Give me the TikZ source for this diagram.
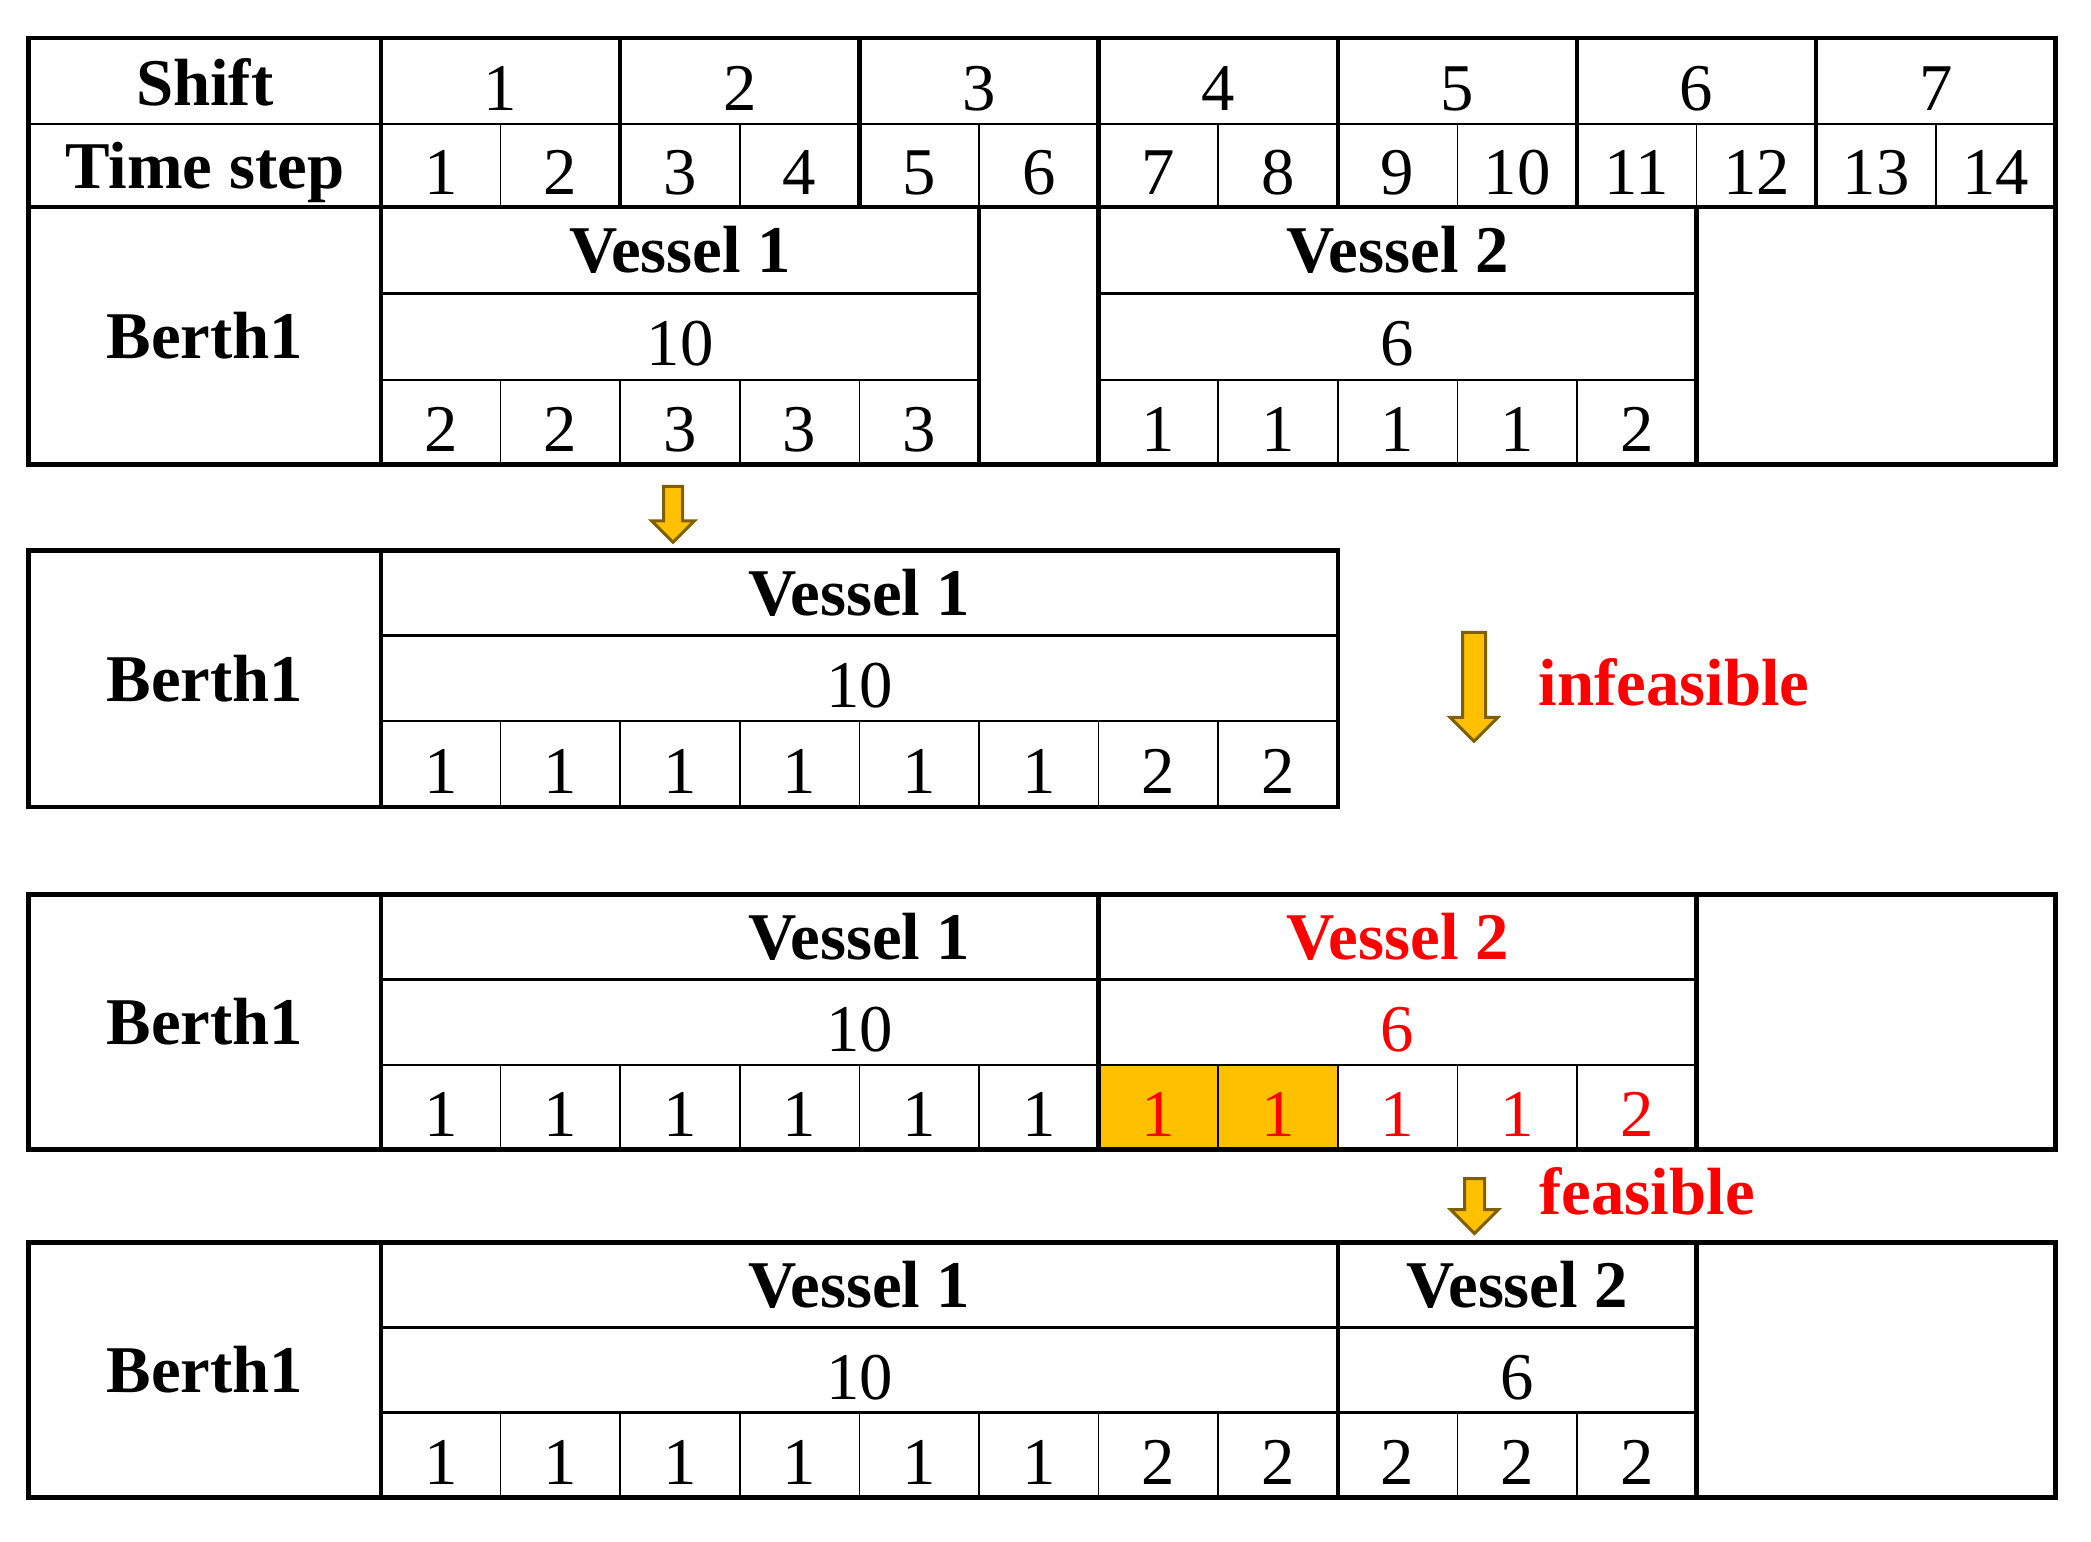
\documentclass[tikz,border=0pt]{standalone}
\usepackage{fontspec}
\setmainfont{Liberation Serif}
\usetikzlibrary{shapes.arrows}
\definecolor{amber}{HTML}{FFC000}
\definecolor{amberline}{HTML}{7F6000}

\begin{document}
\begin{tikzpicture}[x=1.196cm,y=-1cm,
    txt/.style={inner sep=0pt,text height=4.4mm,text depth=0pt,font=\fontsize{19}{23}\selectfont},
    num/.style={txt,yshift=-0.7mm},
    hd/.style={txt,font=\fontsize{19}{23}\selectfont\bfseries},
    tline/.style={line width=0.15mm},
    mline/.style={line width=0.25mm},
    bline/.style={line width=0.45mm},
    drop/.style={single arrow,draw=amberline,fill=amber,line width=0.3mm,rotate=-90,inner sep=0pt,
      text height=#1/2,text depth=#1/2}]
  \useasboundingbox (-3.1856,0) rectangle (14.2977,15.41);
  % header
  \draw[mline] (-2.947,1.24) -- (14,1.24);
  \foreach \i in {1,3,...,13}
    \draw[tline] (\i,1.24) -- (\i,2.07);
  \foreach \i in {0,2,...,14}
    \draw[bline] (\i,0.38) -- (\i,2.07);
  \draw[bline] (-2.947,0.38) rectangle (14,2.07);
  \node[hd] (shift) at (-1.4735,0.83) {Shift};
  \node[hd] (tstep) at (-1.4735,1.66) {Time step};
  \foreach \s in {1,...,7}
    \node[num] (s\s) at (2*\s-1,0.81) {\s};
  \foreach \t in {1,...,14}
    \node[num] (ts\t) at (\t-0.5,1.655) {\t};
  % plan 1
  \draw[bline] (-2.947,2.07) rectangle (14,4.645);
  \node[hd] (berth1) at (-1.4735,3.36) {Berth1};
  \foreach \v [count=\i] in {2,2,3,3,3} {
    \draw[tline] (\i,3.80) -- (\i,4.645);
    \node[num] (t1a\i) at (\i-0.5,4.2225) {\v};
  }
  \foreach \v [count=\i from 7] in {1,1,1,1,2} {
    \draw[tline] (\i,3.80) -- (\i,4.645);
    \node[num] (t1b\i) at (\i-0.5,4.2225) {\v};
  }
  \draw[mline] (0,2.935) -- (5,2.935) (0,3.80) -- (5,3.80);
  \draw[mline] (6,2.935) -- (11,2.935) (6,3.80) -- (11,3.80);
  \draw[bline] (0,2.07) rectangle (5,4.645);
  \draw[bline] (6,2.07) rectangle (11,4.645);
  \node[hd] (t1v1) at (2.5,2.5025) {Vessel 1};
  \node[num] (t1l1) at (2.5,3.3675) {10};
  \node[hd] (t1v2) at (8.5,2.5025) {Vessel 2};
  \node[num] (t1l2) at (8.5,3.3675) {6};
  % plan 2
  \draw[bline] (-2.947,5.505) rectangle (8,8.07);
  \node[hd] (berth2) at (-1.4735,6.79) {Berth1};
  \foreach \v [count=\i] in {1,1,1,1,1,1,2,2} {
    \draw[tline] (\i,7.21) -- (\i,8.07);
    \node[num] (t2a\i) at (\i-0.5,7.64) {\v};
  }
  \draw[mline] (0,6.355) -- (8,6.355) (0,7.21) -- (8,7.21);
  \draw[bline] (0,5.505) -- (0,8.07);
  \node[hd] (t2v1) at (4,5.93) {Vessel 1};
  \node[num] (t2l1) at (4,6.7825) {10};
  % plan 3
  \fill[amber] (6,10.65) rectangle (8,11.495);
  \draw[bline] (-2.947,8.945) rectangle (14,11.495);
  \node[hd] (berth3) at (-1.4735,10.22) {Berth1};
  \foreach \v [count=\i] in {1,1,1,1,1,1} {
    \draw[tline] (\i,10.65) -- (\i,11.495);
    \node[num] (t3a\i) at (\i-0.5,11.0725) {\v};
  }
  \foreach \v [count=\i from 7] in {1,1,1,1,2} {
    \draw[tline] (\i,10.65) -- (\i,11.495);
    \node[num,red] (t3b\i) at (\i-0.5,11.0725) {\v};
  }
  \draw[mline] (0,9.795) -- (11,9.795) (0,10.65) -- (11,10.65);
  \draw[bline] (0,8.945) rectangle (6,11.495);
  \draw[bline] (6,8.945) rectangle (11,11.495);
  \node[hd] (t3v1) at (4,9.37) {Vessel 1};
  \node[num] (t3l1) at (4,10.2225) {10};
  \node[hd,red] (t3v2) at (8.5,9.37) {Vessel 2};
  \node[num,red] (t3l2) at (8.5,10.2225) {6};
  % plan 4
  \draw[bline] (-2.947,12.425) rectangle (14,14.975);
  \node[hd] (berth4) at (-1.4735,13.70) {Berth1};
  \foreach \v [count=\i] in {1,1,1,1,1,1,2,2,2,2,2} {
    \draw[tline] (\i,14.125) -- (\i,14.975);
    \node[num] (t4a\i) at (\i-0.5,14.55) {\v};
  }
  \draw[mline] (0,13.275) -- (11,13.275) (0,14.125) -- (11,14.125);
  \draw[bline] (0,12.425) rectangle (8,14.975);
  \draw[bline] (8,12.425) rectangle (11,14.975);
  \node[hd] (t4v1) at (4,12.85) {Vessel 1};
  \node[num] (t4l1) at (4,13.70) {10};
  \node[hd] (t4v2) at (9.5,12.85) {Vessel 2};
  \node[num] (t4l2) at (9.5,13.70) {6};
  % arrows
  \node[drop=1.6mm,minimum height=5.6mm,single arrow head extend=1.2mm] (down1) at (2.4415,5.095) {};
  \node[drop=2mm,minimum height=10.9mm,single arrow head extend=1.25mm] (down2) at (9.1388,6.81) {};
  \node[drop=1.7mm,minimum height=5.5mm,single arrow head extend=1.4mm] (down3) at (9.143,12.01) {};
  \node[hd,red,anchor=base west] (infeas) at (9.674,7.05) {infeasible};
  \node[hd,red,anchor=base west] (feas) at (9.682,12.14) {feasible};
\end{tikzpicture}
\end{document}
